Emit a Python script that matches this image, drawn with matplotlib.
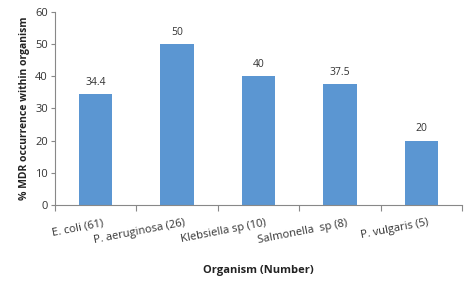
import matplotlib
matplotlib.use("Agg")
import matplotlib.pyplot as plt

categories = ["E. coli (61)", "P. aeruginosa (26)", "Klebsiella sp (10)", "Salmonella  sp (8)", "P. vulgaris (5)"]
values = [34.4, 50, 40, 37.5, 20]
value_labels = ["34.4", "50", "40", "37.5", "20"]

plt.rcParams['font.family'] = ['Open Sans', 'DejaVu Sans']
fig = plt.figure(figsize=(4.74, 2.83), dpi=100)
ax = fig.add_axes([0.116, 0.276, 0.859, 0.682])

x = list(range(len(categories)))
bars = ax.bar(x, values, width=0.41, color="#5B96D2", zorder=2)
for xi, v, lab in zip(x, values, value_labels):
    ax.text(xi, v + 2.0, lab, ha="center", va="bottom", fontsize=7.5, color="#333333")

ax.set_xlim(-0.5, len(categories) - 0.5)
ax.set_ylim(0, 60)
ax.set_yticks(range(0, 61, 10))
ax.tick_params(axis='y', labelsize=8, colors="#333333", length=3, color="#888888", pad=2)
ax.set_xticks([i + 0.5 for i in range(-1, len(categories))], minor=False)
ax.set_xticklabels([])
ax.set_xticks([i + 0.08 for i in x], minor=True)
ax.set_xticklabels(categories, minor=True, rotation=11, ha="right", rotation_mode="anchor", fontsize=8, color="#333333")
ax.tick_params(axis='x', which='major', length=4, color="#888888")
ax.tick_params(axis='x', which='minor', length=0, pad=9)
for s in ["top", "right"]:
    ax.spines[s].set_visible(False)
for s in ["left", "bottom"]:
    ax.spines[s].set_color("#888888")
    ax.spines[s].set_linewidth(0.8)

ax.set_ylabel("% MDR occurrence within organism", fontsize=7.5, fontweight="bold", color="#222222", labelpad=4)
ax.set_xlabel("Organism (Number)", fontsize=8, fontweight="bold", color="#222222", labelpad=14)

fig.savefig("out.png", dpi=100)
